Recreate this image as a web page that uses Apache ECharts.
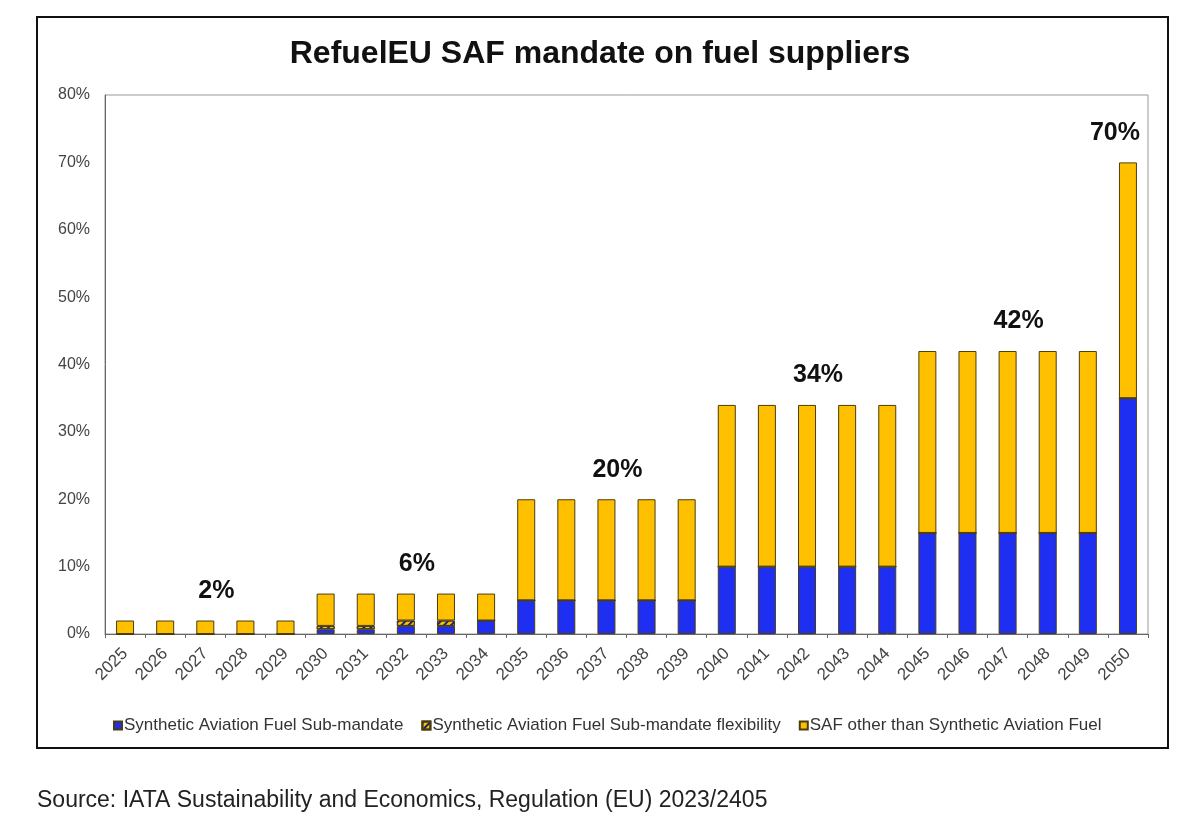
<!DOCTYPE html>
<html>
<head>
<meta charset="utf-8">
<title>RefuelEU SAF mandate</title>
<script src="https://cdn.jsdelivr.net/npm/echarts@6/dist/echarts.min.js"></script>
<style>
  html, body { margin: 0; padding: 0; background: #fff; }
  #main { width: 1200px; height: 822px; }
</style>
</head>
<body>
<div id="main"></div>
<script>
// years on the x axis
var years = ['2025','2026','2027','2028','2029','2030','2031','2032','2033','2034',
             '2035','2036','2037','2038','2039','2040','2041','2042','2043','2044',
             '2045','2046','2047','2048','2049','2050'];
// synthetic fuel sub-mandate (%)
var subMandate = [0,0,0,0,0, 0.7,0.7,1.2,1.2,2, 5,5,5,5,5, 10,10,10,10,10, 15,15,15,15,15, 35];
// flexibility part of the sub-mandate (%)
var flexibility = [0,0,0,0,0, 0.5,0.5,0.8,0.8,0, 0,0,0,0,0, 0,0,0,0,0, 0,0,0,0,0, 0];
// other SAF (%)
var otherSaf = [2,2,2,2,2, 4.8,4.8,4,4,4, 15,15,15,15,15, 24,24,24,24,24, 27,27,27,27,27, 35];
// labels over the middle bar of each step
var totalLabels = ['','','2%','','', '','','6%','','', '','','20%','','', '','','34%','','', '','','42%','','', '70%'];
var yTicks = [0, 10, 20, 30, 40, 50, 60, 70, 80];

var myChart = echarts.init(document.getElementById('main'));

var barBorder = '#4a3e10';

// last label sits a bit left so it stays inside the frame, the rest a bit right
var otherData = otherSaf.map(function (v, i) {
  return i === otherSaf.length - 1 ? { value: v, label: { offset: [-13, 0] } } : v;
});

var option = {
  backgroundColor: '#fff',
  animation: false,
  title: [{
    text: 'RefuelEU SAF mandate on fuel suppliers',
    left: 'center',
    top: 33,
    textStyle: { fontFamily: 'Liberation Sans', fontWeight: 'bold', fontSize: 32, color: '#111' }
  }, {
    text: 'Source: IATA Sustainability and Economics, Regulation (EU) 2023/2405',
    left: 32,
    top: 784,
    textStyle: { fontFamily: 'Liberation Sans', fontWeight: 'normal', fontSize: 23, color: '#222' }
  }],
  graphic: [{
    type: 'rect',
    shape: { x: 37, y: 17, width: 1131, height: 731 },
    style: { fill: 'none', stroke: '#111', lineWidth: 2 },
    silent: true
  }],
  legend: {
    left: 108,
    top: 712,
    icon: 'rect',
    itemWidth: 8,
    itemHeight: 8,
    itemGap: 18,
    textStyle: { fontFamily: 'Liberation Sans', fontSize: 17, color: '#333', padding: [0, 0, 0, -3] },
    data: ['Synthetic Aviation Fuel Sub-mandate', 'Synthetic Aviation Fuel Sub-mandate flexibility', 'SAF other than Synthetic Aviation Fuel']
  },
  grid: {
    left: 105, right: 52, top: 95, bottom: 188,
    show: true, borderColor: '#999', borderWidth: 1
  },
  xAxis: {
    type: 'category',
    data: years,
    axisLine: { lineStyle: { color: '#666' } },
    axisTick: { show: true, length: 4, lineStyle: { color: '#666' } },
    axisLabel: { rotate: 45, fontFamily: 'Liberation Sans', fontSize: 17, color: '#444', margin: 17 }
  },
  yAxis: {
    type: 'value',
    min: yTicks[0],
    max: yTicks[yTicks.length - 1],
    interval: 10,
    splitLine: { show: false },
    axisLine: { show: true, lineStyle: { color: '#666' } },
    axisTick: { show: false },
    axisLabel: { formatter: '{value}%', fontFamily: 'Liberation Sans', fontSize: 16, color: '#444', margin: 15 }
  },
  series: [{
    name: 'Synthetic Aviation Fuel Sub-mandate',
    type: 'bar',
    stack: 'saf',
    barWidth: 18,
    data: subMandate,
    itemStyle: { color: '#1f2ff2', borderColor: barBorder, borderWidth: 1 }
  }, {
    name: 'Synthetic Aviation Fuel Sub-mandate flexibility',
    type: 'bar',
    stack: 'saf',
    barWidth: 18,
    data: flexibility,
    itemStyle: {
      color: '#ffc000', borderColor: barBorder, borderWidth: 1,
      decal: { symbol: 'rect', color: '#1a237a', dashArrayX: [1, 0], dashArrayY: [2, 3], rotation: -Math.PI / 4, symbolSize: 1 }
    }
  }, {
    name: 'SAF other than Synthetic Aviation Fuel',
    type: 'bar',
    stack: 'saf',
    barWidth: 18,
    data: otherData,
    itemStyle: { color: '#ffc000', borderColor: barBorder, borderWidth: 1 },
    label: {
      show: true,
      position: 'top',
      distance: 17,
      offset: [11, 0],
      fontFamily: 'Liberation Sans',
      fontWeight: 'bold',
      fontSize: 25,
      color: '#111',
      formatter: function (p) { return totalLabels[p.dataIndex]; }
    }
  }]
};

myChart.setOption(option);
</script>
</body>
</html>
